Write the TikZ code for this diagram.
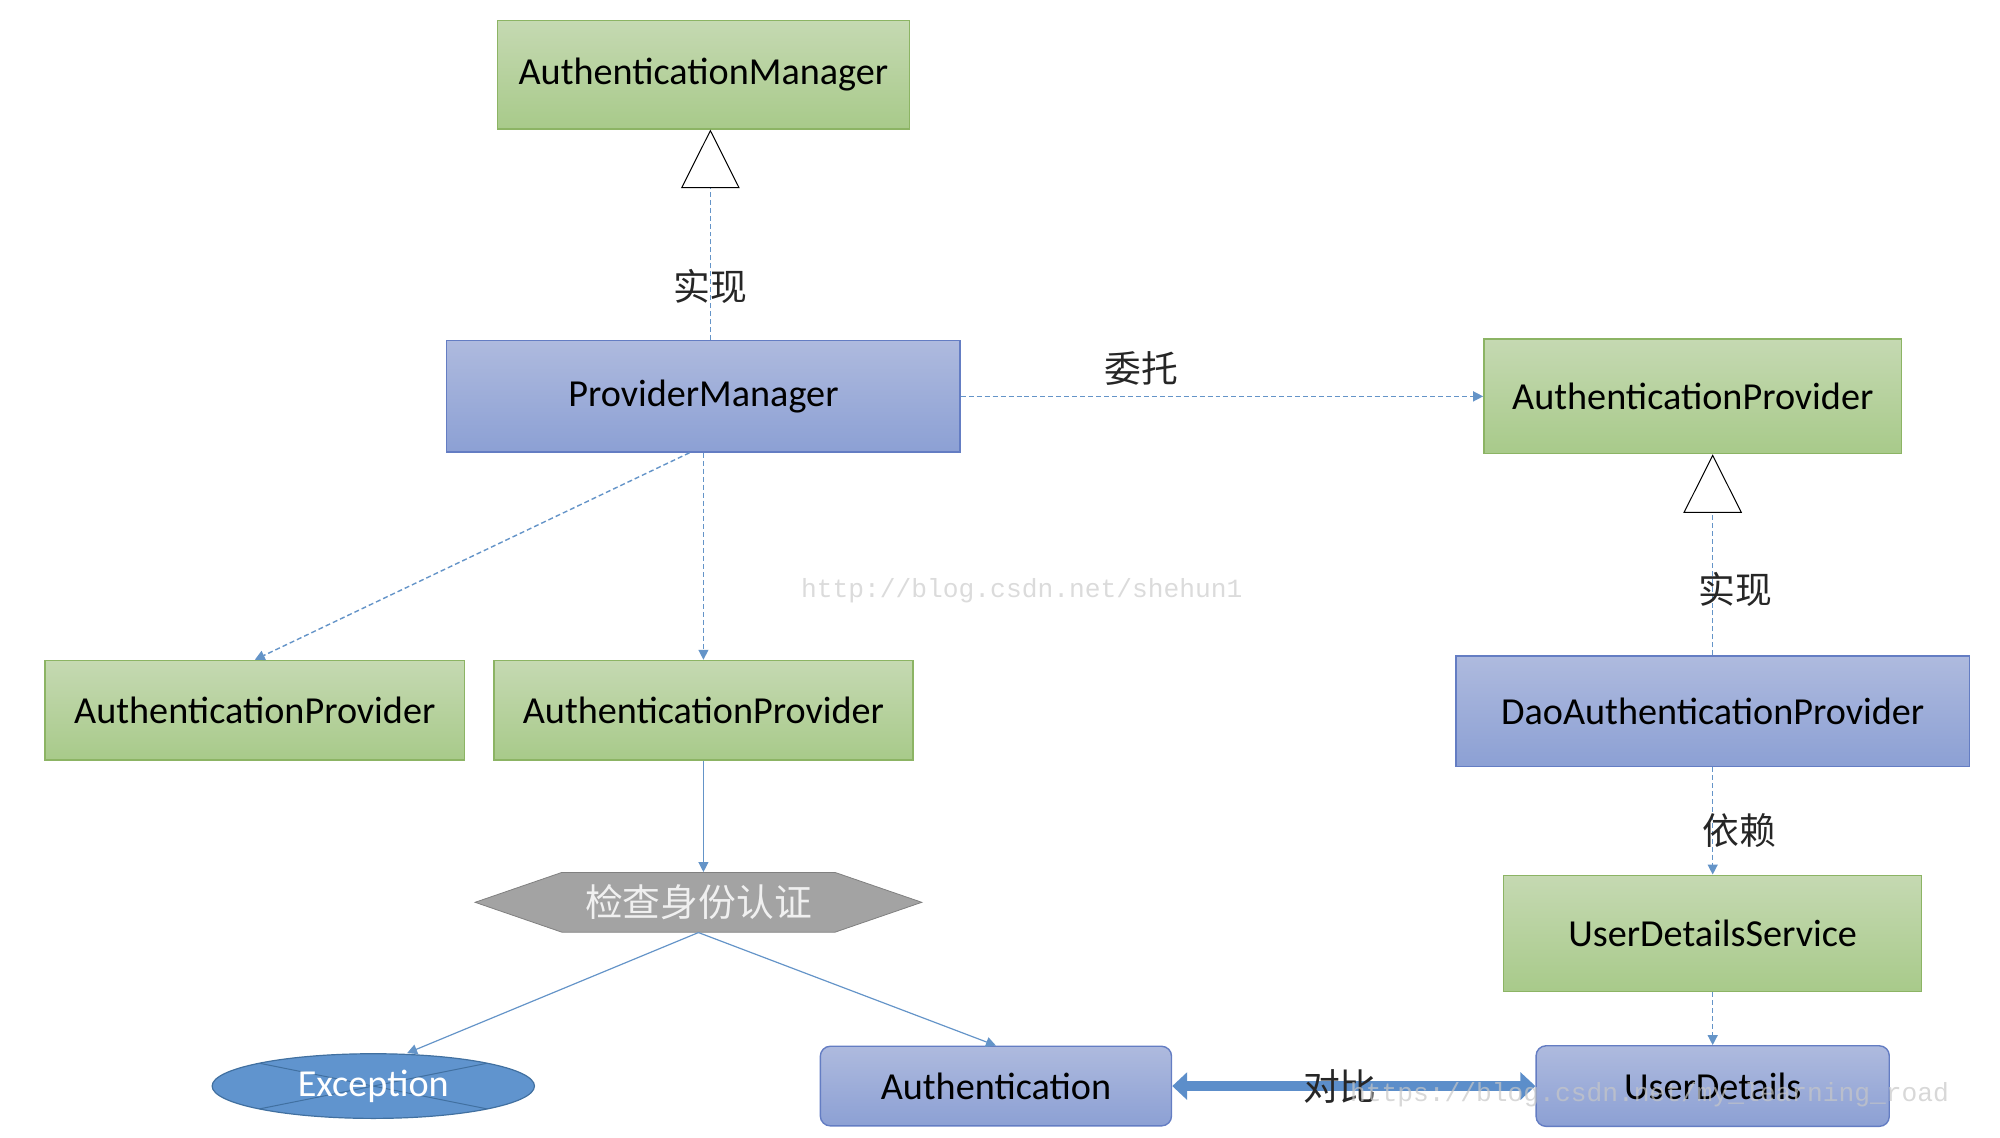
\documentclass[tikz,border=0pt]{standalone}
\usepackage{fontspec}
\usetikzlibrary{positioning, calc, shapes, arrows.meta}
\newfontfamily\carlito{Carlito}
\newfontfamily\cjk{Noto Sans CJK SC}
\newfontfamily\wmfont{Liberation Mono}
\definecolor{greentop}{RGB}{197,217,178}
\definecolor{greenbot}{RGB}{168,202,138}
\definecolor{greenline}{RGB}{140,180,100}
\definecolor{bluetop}{RGB}{174,186,222}
\definecolor{bluebot}{RGB}{140,160,212}
\definecolor{blueline}{RGB}{100,125,195}
\definecolor{linkblue}{RGB}{100,148,200}
\definecolor{excfill}{RGB}{96,148,206}
\definecolor{excline}{RGB}{65,112,160}
\definecolor{hexgray}{RGB}{163,163,163}
\definecolor{comparebl}{RGB}{92,142,202}

\begin{document}
\begin{tikzpicture}[x=0.5pt, y=-0.5pt,
        greenbox/.style={draw=greenline, line width=0.7pt, top color=greentop, bottom color=greenbot, inner sep=0pt, font=\carlito\fontsize{19.2}{23}\selectfont},
        bluebox/.style={draw=blueline, line width=0.7pt, top color=bluetop, bottom color=bluebot, inner sep=0pt, font=\carlito\fontsize{19.2}{23}\selectfont},
        excnode/.style={ellipse, draw=excline, line width=0.6pt, fill=excfill, inner sep=0pt, text=white, font=\carlito\fontsize{19.2}{23}\selectfont,
                path picture={\draw[excline, line width=0.5pt] (path picture bounding box.north west) -- (path picture bounding box.south east);
                        \draw[excline, line width=0.5pt] (path picture bounding box.south west) -- (path picture bounding box.north east);}},
        checknode/.style={signal, signal to=west and east, signal pointer angle=38, fill=hexgray, draw=gray, line width=0.4pt, inner sep=0pt, text=white!94!black, font=\cjk\fontsize{19}{23}\selectfont},
        dashlink/.style={linkblue, line width=0.7pt, dash pattern=on 2.5pt off 1.5pt},
        solidlink/.style={linkblue, line width=0.6pt},
        smalltip/.style={-{Triangle[length=5pt,width=5pt]}},
        realize/.style={-{Triangle[length=29.5pt,width=29.5pt,fill=white,color=black,line width=0.5pt]}},
        compare/.style={comparebl, line width=5pt, {Triangle[length=7.5pt,width=13.5pt]}-{Triangle[length=7.5pt,width=13.5pt]}},
        cnlabel/.style={font=\cjk\fontsize{18.5}{22}\selectfont, text=black!85, inner sep=0pt},
        watermark/.style={font=\wmfont\fontsize{13.2}{16}\selectfont, text=black!14, inner sep=0pt}]
        \useasboundingbox (0,0) rectangle (2010.2,1143.8);
        \node[greenbox, minimum width=207pt, minimum height=54.5pt] (AM) at (707,75) {AuthenticationManager};
        \node[bluebox, minimum width=258pt, minimum height=56pt, below=105.75pt of AM] (PM) {ProviderManager};
        \node[greenbox, minimum width=210pt, minimum height=57.5pt, right=262.5pt of PM] (APR) {AuthenticationProvider};
        \node[bluebox, minimum width=258pt, minimum height=55.5pt, below=101pt of APR.south, xshift=10pt] (Dao) {DaoAuthenticationProvider};
        \node[greenbox, minimum width=210pt, minimum height=58.5pt, below=54pt of Dao] (UDS) {UserDetailsService};
        \node[bluebox, rounded corners=5pt, minimum width=177.5pt, minimum height=40.5pt, below=26.5pt of UDS] (UD) {UserDetails};
        \node[bluebox, rounded corners=5pt, minimum width=176.5pt, minimum height=40pt, left=182.5pt of UD] (Auth) {Authentication};
        \node[excnode, minimum width=162pt, minimum height=32.5pt, left=143pt of Auth] (Exc) {Exception};
        
        \node[greenbox, minimum width=210.5pt, minimum height=50pt, below=104pt of PM] (APM) {AuthenticationProvider};
        \node[greenbox, minimum width=211pt, minimum height=50pt, left=14pt of APM] (APL) {AuthenticationProvider};
        \node[checknode, minimum width=224.5pt, minimum height=30pt, below=56pt of APM, xshift=-2.5pt] (Chk) {检查身份认证};
        
        \draw[dashlink, realize] ([xshift=3.5pt]PM.north) -- node[cnlabel, pos=0.255] {实现} ([xshift=3.5pt]AM.south);
        \draw[dashlink, smalltip] (PM.east) -- node[cnlabel, above=5pt, pos=0.345] {委托} (APR.west);
        \draw[dashlink, smalltip] ([xshift=-7pt]PM.south) -- (APL.north);
        \draw[dashlink, smalltip] (PM.south) -- (APM.north);
        \draw[solidlink, smalltip] (APM.south) -- (APM.south |- Chk.north);
        \draw[solidlink, smalltip] (Chk.south) -- ([xshift=17pt]Exc.north);
        \draw[solidlink, smalltip] (Chk.south) -- (Auth.north);
        
        \draw[dashlink, realize] (Dao.north) -- node[cnlabel, pos=0.33, xshift=11.5pt] {实现} (Dao.north |- APR.south);
        \draw[dashlink, smalltip] (Dao.south) -- node[cnlabel, pos=0.59, xshift=13.5pt] {依赖} (UDS.north);
        \draw[dashlink, smalltip] (UDS.south) -- (UD.north);
        \draw[compare] (Auth.east) -- node[cnlabel, xshift=-7pt] {对比} (UD.west);
        
        \node[watermark] (WM1) at (1027,594) {http://blog.csdn.net/shehun1};
        \node[watermark, text=black!22, opacity=0.7] (WM2) at (1658,1100) {https://blog.csdn.net/my\_learning\_road};
\end{tikzpicture}
\end{document}
